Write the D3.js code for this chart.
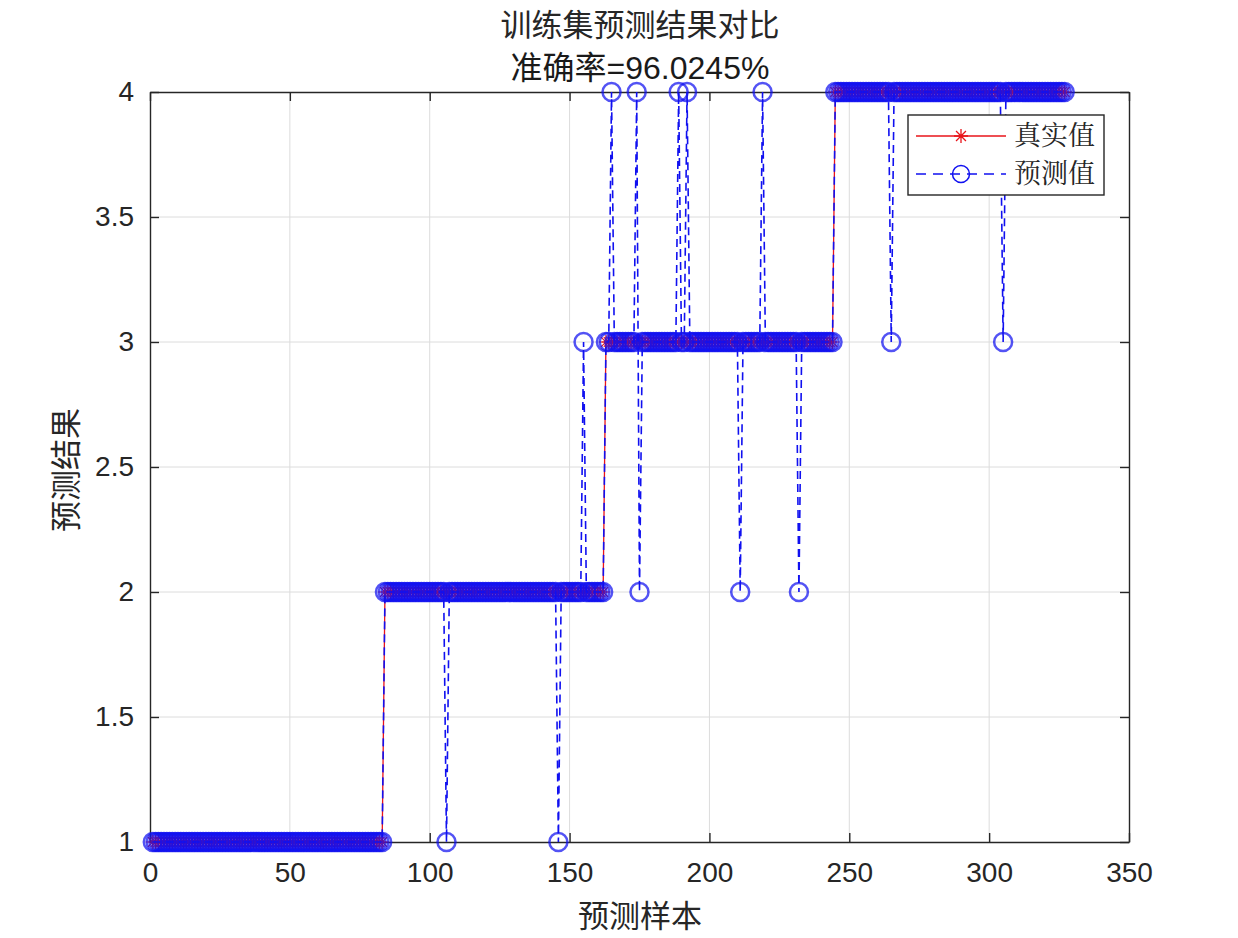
<!DOCTYPE html>
<html>
<head>
<meta charset="utf-8">
<script src="https://cdn.jsdelivr.net/npm/d3@7"></script>
<style>
  html, body { margin: 0; padding: 0; background: #ffffff; }
  svg { display: block; }
</style>
</head>
<body>
<svg id="chart" width="1238" height="938"></svg>
<script>
// ---------------- data ----------------
const titleLines = ["训练集预测结果对比", "准确率=96.0245%"];
const xLabel = "预测样本";
const yLabel = "预测结果";
const seriesNames = ["真实值", "预测值"];
const xTicks = [0, 50, 100, 150, 200, 250, 300, 350];
const yTicks = [1, 1.5, 2, 2.5, 3, 3.5, 4];

// true class of each training sample (samples 1..327)
const trueValues = [
  1,1,1,1,1,1,1,1,1,1, 1,1,1,1,1,1,1,1,1,1, 1,1,1,1,1,1,1,1,1,1, 1,1,1,1,1,1,1,1,1,1,
  1,1,1,1,1,1,1,1,1,1, 1,1,1,1,1,1,1,1,1,1, 1,1,1,1,1,1,1,1,1,1, 1,1,1,1,1,1,1,1,1,1,
  1,1,1,2,2,2,2,2,2,2, 2,2,2,2,2,2,2,2,2,2, 2,2,2,2,2,2,2,2,2,2, 2,2,2,2,2,2,2,2,2,2,
  2,2,2,2,2,2,2,2,2,2, 2,2,2,2,2,2,2,2,2,2, 2,2,2,2,2,2,2,2,2,2, 2,2,2,2,2,2,2,2,2,2,
  2,2,3,3,3,3,3,3,3,3, 3,3,3,3,3,3,3,3,3,3, 3,3,3,3,3,3,3,3,3,3, 3,3,3,3,3,3,3,3,3,3,
  3,3,3,3,3,3,3,3,3,3, 3,3,3,3,3,3,3,3,3,3, 3,3,3,3,3,3,3,3,3,3, 3,3,3,3,3,3,3,3,3,3,
  3,3,3,3,4,4,4,4,4,4, 4,4,4,4,4,4,4,4,4,4, 4,4,4,4,4,4,4,4,4,4, 4,4,4,4,4,4,4,4,4,4,
  4,4,4,4,4,4,4,4,4,4, 4,4,4,4,4,4,4,4,4,4, 4,4,4,4,4,4,4,4,4,4, 4,4,4,4,4,4,4,4,4,4,
  4,4,4,4,4,4,4
];

// predicted class of each training sample (samples 1..327)
const predValues = [
  1,1,1,1,1,1,1,1,1,1, 1,1,1,1,1,1,1,1,1,1, 1,1,1,1,1,1,1,1,1,1, 1,1,1,1,1,1,1,1,1,1,
  1,1,1,1,1,1,1,1,1,1, 1,1,1,1,1,1,1,1,1,1, 1,1,1,1,1,1,1,1,1,1, 1,1,1,1,1,1,1,1,1,1,
  1,1,1,2,2,2,2,2,2,2, 2,2,2,2,2,2,2,2,2,2, 2,2,2,2,2,1,2,2,2,2, 2,2,2,2,2,2,2,2,2,2,
  2,2,2,2,2,2,2,2,2,2, 2,2,2,2,2,2,2,2,2,2, 2,2,2,2,2,1,2,2,2,2, 2,2,2,2,3,2,2,2,2,2,
  2,2,3,3,4,3,3,3,3,3, 3,3,3,4,2,3,3,3,3,3, 3,3,3,3,3,3,3,3,4,3, 3,4,3,3,3,3,3,3,3,3,
  3,3,3,3,3,3,3,3,3,3, 2,3,3,3,3,3,3,3,4,3, 3,3,3,3,3,3,3,3,3,3, 3,2,3,3,3,3,3,3,3,3,
  3,3,3,3,4,4,4,4,4,4, 4,4,4,4,4,4,4,4,4,4, 4,4,4,4,3,4,4,4,4,4, 4,4,4,4,4,4,4,4,4,4,
  4,4,4,4,4,4,4,4,4,4, 4,4,4,4,4,4,4,4,4,4, 4,4,4,4,3,4,4,4,4,4, 4,4,4,4,4,4,4,4,4,4,
  4,4,4,4,4,4,4
];

// ---------------- drawing ----------------
const W = 1238, H = 938;
const plot = { left: 150, right: 1129, top: 92, bottom: 842 };
const axisColor = "#262626";
const redColor = "#e8141a";
const blueColor = "#1010f0";
const latin = "'Liberation Sans', Arial, Helvetica, sans-serif";
const cjk = "'Liberation Sans', 'Noto Sans CJK SC', sans-serif";

const svg = d3.select("#chart");
const x = d3.scaleLinear().domain([0, 350]).range([plot.left, plot.right]);
const y = d3.scaleLinear().domain([1, 4]).range([plot.bottom, plot.top]);

svg.append("rect").attr("x", 0).attr("y", 0).attr("width", W).attr("height", H).attr("fill", "#fff");

// grid
const grid = svg.append("g").attr("stroke", "#dcdcdc").attr("stroke-width", 1);
grid.selectAll("line.gx").data(xTicks.slice(1, -1)).join("line")
  .attr("x1", d => x(d)).attr("x2", d => x(d))
  .attr("y1", plot.top).attr("y2", plot.bottom);
grid.selectAll("line.gy").data(yTicks.slice(1, -1)).join("line")
  .attr("y1", d => y(d)).attr("y2", d => y(d))
  .attr("x1", plot.left).attr("x2", plot.right);

// axes
function styleAxis(g, showText) {
  g.select(".domain").attr("stroke", axisColor).attr("stroke-width", 1.4);
  g.selectAll(".tick line").attr("stroke", axisColor).attr("stroke-width", 1.4);
  g.selectAll(".tick text")
    .attr("fill", axisColor)
    .style("font-family", latin)
    .style("font-size", "28px");
  if (!showText) g.selectAll(".tick text").remove();
}
const tickLen = 9;
const gxB = svg.append("g").attr("transform", `translate(0,${plot.bottom})`)
  .call(d3.axisBottom(x).tickValues(xTicks).tickFormat(d3.format("d"))
    .tickSizeInner(-tickLen).tickSizeOuter(0).tickPadding(20));
styleAxis(gxB, true);
const gxT = svg.append("g").attr("transform", `translate(0,${plot.top})`)
  .call(d3.axisTop(x).tickValues(xTicks).tickSizeInner(-tickLen).tickSizeOuter(0));
styleAxis(gxT, false);
const gyL = svg.append("g").attr("transform", `translate(${plot.left},0)`)
  .call(d3.axisLeft(y).tickValues(yTicks).tickFormat(d => String(d))
    .tickSizeInner(-tickLen).tickSizeOuter(0).tickPadding(16));
styleAxis(gyL, true);
const gyR = svg.append("g").attr("transform", `translate(${plot.right},0)`)
  .call(d3.axisRight(y).tickValues(yTicks).tickSizeInner(-tickLen).tickSizeOuter(0));
styleAxis(gyR, false);

// data
const trueData = trueValues.map((v, i) => ({ i: i + 1, v }));
const predData = predValues.map((v, i) => ({ i: i + 1, v }));
const line = d3.line().x(d => x(d.i)).y(d => y(d.v));

function starPath(cx, cy, r) {
  const a = r * 0.7071;
  return `M${cx - r},${cy}L${cx + r},${cy}M${cx},${cy - r}L${cx},${cy + r}` +
         `M${cx - a},${cy - a}L${cx + a},${cy + a}M${cx - a},${cy + a}L${cx + a},${cy - a}`;
}

const dataG = svg.append("g");
dataG.append("path").datum(trueData).attr("d", line)
  .attr("fill", "none").attr("stroke", redColor).attr("stroke-width", 1.3);
dataG.append("g").selectAll("path").data(trueData).join("path")
  .attr("d", d => starPath(x(d.i), y(d.v), 7))
  .attr("fill", "none").attr("stroke", redColor).attr("stroke-width", 1.2);

dataG.append("path").datum(predData).attr("d", line)
  .attr("fill", "none").attr("stroke", blueColor).attr("stroke-width", 1.6)
  .attr("stroke-dasharray", "8,5");
dataG.append("g").selectAll("circle").data(predData).join("circle")
  .attr("cx", d => x(d.i)).attr("cy", d => y(d.v)).attr("r", 9)
  .attr("fill", "none").attr("stroke", blueColor).attr("stroke-width", 2.5)
  .attr("stroke-opacity", 0.72);

// title
svg.append("text").attr("x", 640).attr("y", 36).attr("text-anchor", "middle")
  .attr("fill", axisColor).style("font-family", cjk).style("font-size", "31px")
  .text(titleLines[0]);
svg.append("text").attr("x", 640).attr("y", 79).attr("text-anchor", "middle")
  .attr("fill", "#1a1a1a").style("font-family", cjk).style("font-size", "32px")
  .text(titleLines[1]);

// axis labels
svg.append("text").attr("x", 640).attr("y", 927).attr("text-anchor", "middle")
  .attr("fill", axisColor).style("font-family", cjk).style("font-size", "31px")
  .text(xLabel);
svg.append("text").attr("transform", "translate(77,470) rotate(-90)").attr("text-anchor", "middle")
  .attr("fill", axisColor).style("font-family", cjk).style("font-size", "31px")
  .text(yLabel);

// legend
const lg = svg.append("g");
lg.append("rect").attr("x", 908).attr("y", 115).attr("width", 196).attr("height", 80)
  .attr("fill", "#fff").attr("stroke", axisColor).attr("stroke-width", 1.4);
const ly1 = 136, ly2 = 174;
lg.append("line").attr("x1", 916).attr("x2", 1006).attr("y1", ly1).attr("y2", ly1)
  .attr("stroke", redColor).attr("stroke-width", 1.3);
lg.append("path").attr("d", starPath(961, ly1, 7)).attr("fill", "none")
  .attr("stroke", redColor).attr("stroke-width", 1.3);
lg.append("line").attr("x1", 916).attr("x2", 1006).attr("y1", ly2).attr("y2", ly2)
  .attr("stroke", blueColor).attr("stroke-width", 1.5).attr("stroke-dasharray", "10,7");
lg.append("circle").attr("cx", 961).attr("cy", ly2).attr("r", 8.5).attr("fill", "none")
  .attr("stroke", blueColor).attr("stroke-width", 1.5);
lg.append("text").attr("x", 1014).attr("y", ly1).attr("dy", "0.35em")
  .attr("fill", axisColor).style("font-family", "'Noto Serif CJK SC', 'Noto Sans CJK SC', serif")
  .style("font-size", "27px").text(seriesNames[0]);
lg.append("text").attr("x", 1014).attr("y", ly2).attr("dy", "0.35em")
  .attr("fill", axisColor).style("font-family", "'Noto Serif CJK SC', 'Noto Sans CJK SC', serif")
  .style("font-size", "27px").text(seriesNames[1]);
</script>
</body>
</html>
